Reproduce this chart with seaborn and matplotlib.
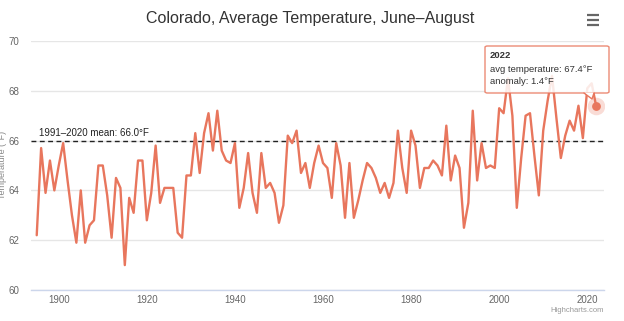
import matplotlib
matplotlib.use("Agg")
import matplotlib.pyplot as plt
import seaborn as sns
from matplotlib.patches import FancyBboxPatch, Polygon
from matplotlib.lines import Line2D

years = list(range(1895, 2023))
avg_temp = [
    62.2, 65.7, 63.9, 65.2, 64.0, 65.0, 65.9, 64.4, 63.0, 61.9,  # 1895-1904
    64.0, 61.9, 62.6, 62.8, 65.0, 65.0, 63.8, 62.1, 64.5, 64.1,  # 1905-1914
    61.0, 63.7, 63.1, 65.2, 65.2, 62.8, 63.9, 65.8, 63.5, 64.1,  # 1915-1924
    64.1, 64.1, 62.3, 62.1, 64.6, 64.6, 66.3, 64.7, 66.3, 67.1,  # 1925-1934
    65.6, 67.2, 65.6, 65.2, 65.1, 65.9, 63.3, 64.1, 65.5, 63.9,  # 1935-1944
    63.1, 65.5, 64.1, 64.3, 63.9, 62.7, 63.4, 66.2, 65.9, 66.4,  # 1945-1954
    64.7, 65.1, 64.1, 65.1, 65.8, 65.1, 64.9, 63.7, 65.9, 65.0,  # 1955-1964
    62.9, 65.1, 62.9, 63.6, 64.4, 65.1, 64.9, 64.5, 63.9, 64.3,  # 1965-1974
    63.7, 64.3, 66.4, 64.9, 63.9, 66.4, 65.8, 64.1, 64.9, 64.9,  # 1975-1984
    65.2, 65.0, 64.6, 66.6, 64.4, 65.4, 64.9, 62.5, 63.5, 67.2,  # 1985-1994
    64.4, 65.9, 64.9, 65.0, 64.9, 67.3, 67.1, 68.5, 67.0, 63.3,  # 1995-2004
    65.3, 67.0, 67.1, 65.4, 63.8, 66.4, 67.6, 68.6, 66.9, 65.3,  # 2005-2014
    66.2, 66.8, 66.4, 67.4, 66.1, 68.1, 68.3, 67.4,              # 2015-2022
]
mean_value = 66.0
mean_label = "1991–2020 mean: 66.0°F"
title = "Colorado, Average Temperature, June–August"
y_ticks = [60, 62, 64, 66, 68, 70]
x_ticks = [1900, 1920, 1940, 1960, 1980, 2000, 2020]
tooltip_year = "2022"
tooltip_lines = ["avg temperature: 67.4°F", "anomaly: 1.4°F"]

sns.set_theme(style="white")
plt.rcParams["font.family"] = ["Liberation Sans", "DejaVu Sans"]

W, H = 624, 321
fig = plt.figure(figsize=(W / 100, H / 100), dpi=100)
fig.patch.set_facecolor("white")

def fx(px):
    return px / W

def fy(py):
    return 1 - py / H

ax = fig.add_axes([fx(31), fy(290), fx(604) - fx(31), fy(41) - fy(290)])
ax.set_facecolor("white")

line_color = "#e8765d"
sns.lineplot(x=years, y=avg_temp, ax=ax, color=line_color, linewidth=1.7, zorder=3)
ax.axhline(mean_value, color="#222222", linestyle=(0, (3.5, 2.5)), linewidth=1.0, zorder=2)
ax.text(1895.5, mean_value + 0.1, mean_label, fontsize=7, color="#222222",
        ha="left", va="bottom", zorder=4)

# highlighted last point
ax.scatter([years[-1]], [avg_temp[-1]], s=160, color=line_color, alpha=0.25,
           linewidths=0, zorder=5)
ax.scatter([years[-1]], [avg_temp[-1]], s=40, color=line_color, linewidths=0, zorder=6)

ax.set_xlim(1893.7, 2023.8)
ax.set_ylim(60, 70)
ax.set_yticks(y_ticks)
ax.set_xticks(x_ticks)
ax.yaxis.grid(True, color="#e6e6e6", linewidth=1.0)
ax.xaxis.grid(False)
for s in ["top", "right", "left"]:
    ax.spines[s].set_visible(False)
ax.spines["bottom"].set_color("#ccd6eb")
ax.spines["bottom"].set_linewidth(1.0)
ax.tick_params(axis="y", length=0, pad=8.5, labelsize=7, labelcolor="#666666")
ax.tick_params(axis="x", length=0, pad=3.5, labelsize=7, labelcolor="#666666")
ax.set_xlabel("")
ax.set_ylabel("")

# title
fig.text(0.497, fy(18), title, ha="center", va="center", fontsize=11.5, color="#333333")

# y-axis title (partly cut at the left edge)
fig.text(fx(3), fy(165), "Temperature (°F)", rotation=90, ha="center", va="center",
         fontsize=6.5, color="#888888")

# hamburger menu
for yy in (15, 20, 25):
    fig.add_artist(Line2D([fx(587), fx(599)], [fy(yy), fy(yy)], color="#666666",
                          linewidth=1.6, solid_capstyle="butt"))

# credit
fig.text(fx(604), fy(311), "Highcharts.com", ha="right", va="center", fontsize=5.5,
         color="#999999")

# tooltip
bx0, bx1, by0, by1 = 485, 609, 46, 93
box = FancyBboxPatch((fx(bx0), fy(by1)), fx(bx1) - fx(bx0), fy(by0) - fy(by1),
                     boxstyle="round,pad=0,rounding_size=0.004",
                     transform=fig.transFigure, facecolor="white", alpha=0.85,
                     edgecolor=line_color, linewidth=1.0, zorder=10)
fig.add_artist(box)
ptr = Polygon([[fx(584), fy(by1 - 0.5)], [fx(594), fy(by1 - 0.5)], [fx(592), fy(99)]],
              closed=True, transform=fig.transFigure, facecolor="white",
              edgecolor="none", zorder=11)
fig.add_artist(ptr)
fig.add_artist(Line2D([fx(584), fx(592), fx(594)], [fy(by1), fy(99), fy(by1)],
                      color=line_color, linewidth=1.0, zorder=12))
fig.text(fx(490), fy(56), tooltip_year, ha="left", va="center", fontsize=6.8,
         fontweight="bold", color="#333333", zorder=13)
for i, t in enumerate(tooltip_lines):
    fig.text(fx(490), fy(70 + 12 * i), t, ha="left", va="center", fontsize=6.8,
             color="#333333", zorder=13)

fig.savefig("out.png", dpi=100, facecolor="white")
